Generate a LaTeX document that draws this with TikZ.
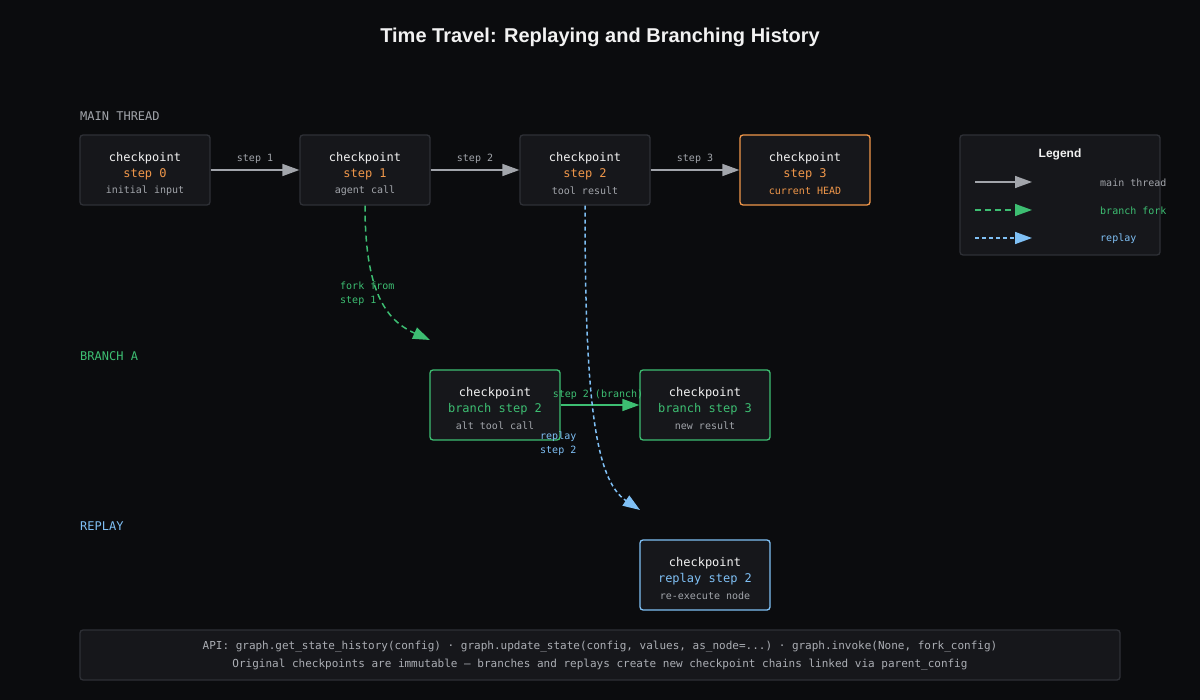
\documentclass[tikz,border=0pt]{standalone}
\usepackage{fontspec}
\setmainfont{Liberation Sans}
\setmonofont{DejaVu Sans Mono}
\usetikzlibrary{arrows.meta}
\definecolor{bg}{HTML}{0B0C0E}
\definecolor{boxbg}{HTML}{16171B}
\definecolor{boxbd}{HTML}{2E3036}
\definecolor{orng}{HTML}{F0974A}
\definecolor{grn}{HTML}{3DBE72}
\definecolor{blu}{HTML}{7FC0F5}
\definecolor{gry}{HTML}{A2A5AB}
\definecolor{wht}{HTML}{F2F2F2}
\tikzset{
 x=1pt,y=-1pt,
 box/.style={draw=boxbd,fill=boxbg,rounded corners=3pt,line width=1.3pt,minimum width=130pt,minimum height=70pt,inner sep=0pt},
 t1/.style={font=\ttfamily\fontsize{12}{12}\selectfont,text=wht},
 t2/.style={font=\ttfamily\fontsize{12}{12}\selectfont},
 t3/.style={font=\ttfamily\fontsize{10}{10}\selectfont,text=gry},
 lab/.style={font=\ttfamily\fontsize{10}{10}\selectfont},
 sec/.style={font=\ttfamily\fontsize{12}{12}\selectfont,anchor=west,inner sep=0pt},
 mainarr/.style={-{Triangle[length=17pt,width=12pt,fill=gry]},draw=gry,line width=1.5pt},
 forkarr/.style={-{Triangle[length=17pt,width=12pt,fill=grn]},draw=grn,line width=1.5pt,dash pattern=on 6pt off 4pt},
 brarr/.style={-{Triangle[length=17pt,width=12pt,fill=grn]},draw=grn,line width=1.5pt},
 reparr/.style={-{Triangle[length=17pt,width=12pt,fill=blu]},draw=blu,line width=1.5pt,dash pattern=on 4pt off 3pt},
}
\begin{document}
\begin{tikzpicture}
\fill[bg] (0,0) rectangle (1200,700);
\useasboundingbox (0,0) rectangle (1200,700);
\node[font=\bfseries\fontsize{20}{20}\selectfont,text=wht] (title) at (600,37) {Time Travel: Replaying and Branching History};
\node[sec,text=gry] (s1) at (80,116) {MAIN THREAD};
\node[sec,text=grn] (s2) at (80,356) {BRANCH A};
\node[sec,text=blu] (s3) at (80,526) {REPLAY};

\node[box] (c0) at (145,170) {};
\node[t1] at (145,158) {checkpoint};
\node[t2,text=orng] at (145,174) {step 0};
\node[t3] at (145,191) {initial input};

\node[box] (c1) at (365,170) {};
\node[t1] at (365,158) {checkpoint};
\node[t2,text=orng] at (365,174) {step 1};
\node[t3] at (365,191) {agent call};

\node[box] (c2) at (585,170) {};
\node[t1] at (585,158) {checkpoint};
\node[t2,text=orng] at (585,174) {step 2};
\node[t3] at (585,191) {tool result};

\node[box,draw=orng] (c3) at (805,170) {};
\node[t1] at (805,158) {checkpoint};
\node[t2,text=orng] at (805,174) {step 3};
\node[t3,text=orng] at (805,191) {current HEAD};

\node[box,draw=grn] (b2) at (495,405) {};
\node[t1] at (495,393) {checkpoint};
\node[t2,text=grn] at (495,409) {branch step 2};
\node[t3] at (495,426) {alt tool call};

\node[box,draw=grn] (b3) at (705,405) {};
\node[t1] at (705,393) {checkpoint};
\node[t2,text=grn] at (705,409) {branch step 3};
\node[t3] at (705,426) {new result};

\node[box,draw=blu] (r2) at (705,575) {};
\node[t1] at (705,563) {checkpoint};
\node[t2,text=blu] at (705,579) {replay step 2};
\node[t3] at (705,596) {re-execute node};

\draw[mainarr] (c0.east) -- (c1.west) node[midway,above=2pt,lab,text=gry] {step 1};
\draw[mainarr] (c1.east) -- (c2.west) node[midway,above=2pt,lab,text=gry] {step 2};
\draw[mainarr] (c2.east) -- (c3.west) node[midway,above=2pt,lab,text=gry] {step 3};
\draw[brarr] (b2.east) -- (b3.west);

\coordinate (fe) at (430,340);
\coordinate (re) at (640,510);
\draw[forkarr] (c1.south) .. controls (365,290) and (385,320) .. (fe);
\draw[reparr] (c2.south) .. controls (585,400) and (595,480) .. (re);
\node[lab,text=grn] (bl) at (598,395) {step 2 (branch)};
\node[lab,text=grn,align=left,anchor=north west,inner sep=0pt] (fl) at (340,282) {fork from\\[4pt]step 1};
\node[lab,text=blu,align=left,anchor=north west,inner sep=0pt] (rl) at (540,432) {replay\\[4pt]step 2};

\node[draw=boxbd,fill=boxbg,rounded corners=3pt,line width=1.3pt,minimum width=200pt,minimum height=120pt] (leg) at (1060,195) {};
\node[font=\bfseries\fontsize{12}{12}\selectfont,text=wht] (lt) at (1060,154) {Legend};
\coordinate (l1a) at (975,182); \coordinate (l1b) at (1032,182);
\coordinate (l2a) at (975,210); \coordinate (l2b) at (1032,210);
\coordinate (l3a) at (975,238); \coordinate (l3b) at (1032,238);
\draw[mainarr] (l1a) -- (l1b);
\draw[forkarr] (l2a) -- (l2b);
\draw[reparr] (l3a) -- (l3b);
\node[lab,text=gry,anchor=west,inner sep=0pt] (lm) at (1100,183) {main thread};
\node[lab,text=grn,anchor=west,inner sep=0pt] (lf) at (1100,211) {branch fork};
\node[lab,text=blu,anchor=west,inner sep=0pt] (lr) at (1100,239) {replay};

\node[draw=boxbd,fill=boxbg,rounded corners=3pt,line width=1.3pt,minimum width=1040pt,minimum height=50pt] (foot) at (600,655) {};
\node[font=\ttfamily\fontsize{11}{11}\selectfont,text=gry!90!white] at (600,647) {API: graph.get\_state\_history(config) · graph.update\_state(config, values, as\_node=...) · graph.invoke(None, fork\_config)};
\node[font=\ttfamily\fontsize{11}{11}\selectfont,text=gry!90!white] at (600,665) {Original checkpoints are immutable — branches and replays create new checkpoint chains linked via parent\_config};
\end{tikzpicture}
\end{document}
